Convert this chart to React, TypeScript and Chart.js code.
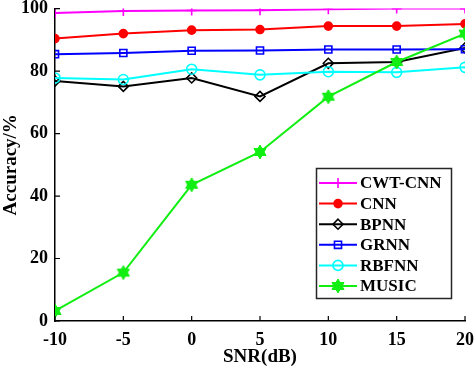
import React, { useEffect, useRef } from 'react';
import { Chart, registerables } from 'chart.js';
Chart.register(...registerables);

const snr = [-10, -5, 0, 5, 10, 15, 20];
const cwtCnn = [98.6, 99.2, 99.4, 99.5, 99.8, 100, 100];
const cnn = [90.4, 92.0, 93.1, 93.3, 94.4, 94.4, 95.1];
const bpnn = [76.8, 75.1, 77.8, 71.9, 82.5, 82.9, 87.4];
const grnn = [85.4, 85.8, 86.5, 86.6, 86.9, 86.9, 87.0];
const rbfnn = [77.8, 77.3, 80.6, 78.8, 79.8, 79.6, 81.2];
const music = [3.2, 15.5, 43.6, 54.1, 71.8, 82.9, 92.0];
const seriesNames = ['CWT-CNN', 'CNN', 'BPNN', 'GRNN', 'RBFNN', 'MUSIC'];
const xTicks = [-10, -5, 0, 5, 10, 15, 20];
const yTicks = [0, 20, 40, 60, 80, 100];

const FONT = "'Liberation Serif', 'Times New Roman', serif";
const GREEN = '#11ee11';

function makeHexagram(color: string, r: number): HTMLCanvasElement {
  const size = Math.ceil(r * 2 + 4);
  const c = document.createElement('canvas');
  c.width = size;
  c.height = size;
  const ctx = c.getContext('2d')!;
  const cx = size / 2, cy = size / 2;
  const inner = r / Math.sqrt(3);
  ctx.beginPath();
  for (let i = 0; i < 12; i++) {
    const rad = i % 2 === 0 ? r : inner;
    const a = -Math.PI / 2 + (i * Math.PI) / 6;
    const px = cx + rad * Math.cos(a);
    const py = cy + rad * Math.sin(a);
    if (i === 0) ctx.moveTo(px, py); else ctx.lineTo(px, py);
  }
  ctx.closePath();
  ctx.fillStyle = color;
  ctx.fill();
  ctx.strokeStyle = color;
  ctx.lineWidth = 1;
  ctx.stroke();
  return c;
}

const toPts = (ys: number[]) => snr.map((x, i) => ({ x, y: ys[i] }));

function drawMarker(ctx: CanvasRenderingContext2D, ds: any, x: number, y: number) {
  const style = ds.pointStyle;
  const r = ds.pointRadius;
  ctx.save();
  ctx.strokeStyle = ds.pointBorderColor;
  ctx.fillStyle = ds.pointBackgroundColor;
  ctx.lineWidth = ds.pointBorderWidth;
  if (style instanceof HTMLCanvasElement) {
    ctx.drawImage(style, x - style.width / 2, y - style.height / 2);
  } else if (style === 'cross') {
    ctx.beginPath();
    ctx.moveTo(x - r, y); ctx.lineTo(x + r, y);
    ctx.moveTo(x, y - r); ctx.lineTo(x, y + r);
    ctx.stroke();
  } else if (style === 'circle') {
    ctx.beginPath();
    ctx.arc(x, y, r, 0, Math.PI * 2);
    ctx.fill();
    ctx.stroke();
  } else if (style === 'rectRot') {
    ctx.beginPath();
    ctx.moveTo(x, y - r); ctx.lineTo(x + r, y); ctx.lineTo(x, y + r); ctx.lineTo(x - r, y);
    ctx.closePath();
    ctx.fill();
    ctx.stroke();
  } else if (style === 'rect') {
    const h = r * Math.SQRT1_2;
    ctx.beginPath();
    ctx.rect(x - h, y - h, 2 * h, 2 * h);
    ctx.fill();
    ctx.stroke();
  }
  ctx.restore();
}

const legendPlugin = {
  id: 'customLegend',
  afterDraw(chart: any) {
    const ctx: CanvasRenderingContext2D = chart.ctx;
    const bx = 316.5, by = 168.5, bw = 135, bh = 130;
    ctx.save();
    ctx.fillStyle = '#ffffff';
    ctx.fillRect(bx, by, bw, bh);
    ctx.strokeStyle = '#262626';
    ctx.lineWidth = 1.5;
    ctx.strokeRect(bx, by, bw, bh);
    chart.data.datasets.forEach((ds: any, i: number) => {
      const y = 183 + i * 20.6;
      ctx.strokeStyle = ds.borderColor;
      ctx.lineWidth = ds.borderWidth;
      ctx.beginPath();
      ctx.moveTo(319, y);
      ctx.lineTo(357, y);
      ctx.stroke();
      drawMarker(ctx, ds, 338, y);
      ctx.fillStyle = '#000';
      ctx.font = `bold 17px ${FONT}`;
      ctx.textBaseline = 'middle';
      ctx.textAlign = 'left';
      ctx.fillText(seriesNames[i], 360, y + 1);
    });
    ctx.restore();
  },
};

const inwardTicks = {
  id: 'inwardTicks',
  afterDatasetsDraw(chart: any) {
    const ctx: CanvasRenderingContext2D = chart.ctx;
    const { left, bottom } = chart.chartArea;
    const xs = chart.scales.x, ys = chart.scales.y;
    ctx.save();
    ctx.strokeStyle = '#000';
    ctx.lineWidth = 1.2;
    ctx.beginPath();
    xTicks.forEach((v) => {
      const px = xs.getPixelForValue(v);
      ctx.moveTo(px, bottom);
      ctx.lineTo(px, bottom - 5);
    });
    yTicks.forEach((v) => {
      const py = ys.getPixelForValue(v);
      ctx.moveTo(left, py);
      ctx.lineTo(left + 5, py);
    });
    ctx.stroke();
    ctx.restore();
  },
};

export default function App() {
  const ref = useRef<HTMLCanvasElement | null>(null);
  useEffect(() => {
    document.body.style.margin = '0';
    const hex = makeHexagram(GREEN, 7);
    const mk = (label: string, data: number[], color: string, style: any, radius: number, fill: string, order: number) => ({
      label,
      data: toPts(data),
      borderColor: color,
      backgroundColor: color,
      borderWidth: 2,
      pointStyle: style,
      pointRadius: radius,
      pointBorderColor: color,
      pointBackgroundColor: fill,
      pointBorderWidth: 1.6,
      tension: 0,
      order,
    });
    const datasets = [
      mk(seriesNames[0], cwtCnn, '#ff00ff', 'cross', 5, '#ff00ff', 0),
      mk(seriesNames[1], cnn, '#ff0000', 'circle', 4, '#ff0000', -1),
      mk(seriesNames[2], bpnn, '#000000', 'rectRot', 5, 'rgba(0,0,0,0)', -2),
      mk(seriesNames[3], grnn, '#0000ff', 'rect', 5, 'rgba(0,0,0,0)', -3),
      mk(seriesNames[4], rbfnn, '#00ffff', 'circle', 5, 'rgba(0,0,0,0)', -4),
      mk(seriesNames[5], music, GREEN, hex, 7, GREEN, -5),
    ];
    const chart = new Chart(ref.current!, {
      type: 'line',
      data: { datasets },
      options: {
        animation: false,
        responsive: false,
        layout: { padding: { top: 7, right: 9, left: 0, bottom: 0 } },
        plugins: { legend: { display: false }, tooltip: { enabled: false } },
        scales: {
          x: {
            type: 'linear',
            min: -10,
            max: 20,
            afterBuildTicks: (s: any) => { s.ticks = xTicks.map((v) => ({ value: v })); },
            afterFit: (s: any) => { s.height = 51; s.paddingLeft = 0; s.paddingRight = 0; },
            ticks: { font: { family: FONT, size: 18, weight: 'bold' }, color: '#000', padding: 9, maxRotation: 0 },
            grid: { display: true, drawOnChartArea: false, drawTicks: false },
            border: { display: true, color: '#000', width: 1.5 },
            title: { display: true, text: 'SNR(dB)', color: '#000', font: { family: FONT, size: 19, weight: 'bold' }, padding: { top: 0, bottom: 4 } },
          },
          y: {
            type: 'linear',
            min: 0,
            max: 100,
            afterBuildTicks: (s: any) => { s.ticks = yTicks.map((v) => ({ value: v })); },
            afterFit: (s: any) => { s.width = 55; s.paddingTop = 0; s.paddingBottom = 0; },
            ticks: { font: { family: FONT, size: 18, weight: 'bold' }, color: '#000', padding: 7 },
            grid: { display: true, drawOnChartArea: false, drawTicks: false },
            border: { display: true, color: '#000', width: 1.5 },
            title: { display: true, text: 'Accuracy/%', color: '#000', font: { family: FONT, size: 19, weight: 'bold' }, padding: { top: 0, bottom: 0 } },
          },
        },
      },
      plugins: [inwardTicks, legendPlugin],
    } as any);
    return () => chart.destroy();
  }, []);
  return (
    <div style={{ width: 474, height: 372 }}>
      <canvas ref={ref} width={474} height={372} />
    </div>
  );
}
